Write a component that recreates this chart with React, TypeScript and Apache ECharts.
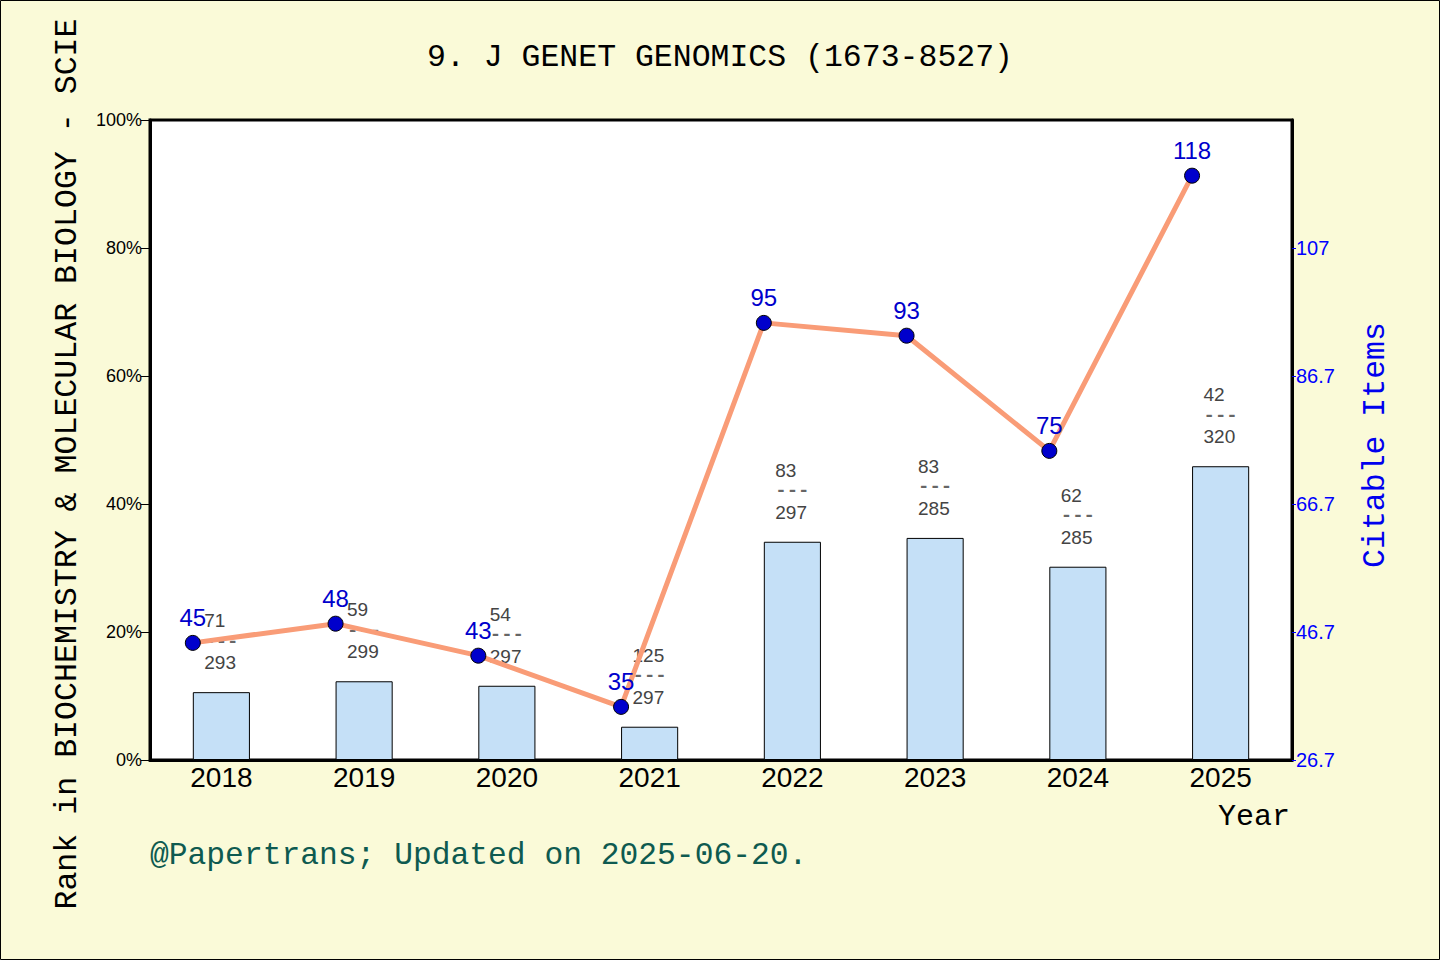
import React, { useEffect, useRef } from "react";
import * as echarts from "echarts";

const years = ["2018", "2019", "2020", "2021", "2022", "2023", "2024", "2025"];
const barPercent = [10.6, 12.3, 11.6, 5.2, 34.1, 34.7, 30.2, 45.9];
const citable = [45, 48, 43, 35, 95, 93, 75, 118];
const rank = [71, 59, 54, 125, 83, 83, 62, 42];
const total = [293, 299, 297, 297, 297, 285, 285, 320];
const leftTicks = [0, 20, 40, 60, 80, 100];
const rightMin = 26.7;
const rightMax = 126.7;

const titleText = "9. J GENET GENOMICS (1673-8527)";
const yName = "Rank in BIOCHEMISTRY & MOLECULAR BIOLOGY - SCIE";
const y2Name = "Citable Items";
const footer = "@Papertrans; Updated on 2025-06-20.";

export default function App() {
  const ref = useRef<HTMLDivElement>(null);
  useEffect(() => {
    if (!ref.current) return;
    const chart = echarts.init(ref.current, null, { renderer: "svg" });
    const mono = "Liberation Mono";
    const sans = "Liberation Sans";
    const gridLeft = 150;
    const gridRight = 148;
    const plotW = 1440 - gridLeft - gridRight;
    const halfBar = (plotW / years.length) * 0.2;
    chart.setOption({
      animation: false,
      backgroundColor: "#FAFAD8",
      grid: [
        {
          left: gridLeft,
          top: 120,
          right: gridRight,
          bottom: 200,
          show: true,
          backgroundColor: "#ffffff",
          borderColor: "#000",
          borderWidth: 3,
        },
        {
          left: gridLeft - halfBar,
          top: 120,
          right: gridRight + halfBar,
          bottom: 200,
          show: false,
        },
      ],
      xAxis: [
        {
          type: "category",
          data: years,
          gridIndex: 0,
          boundaryGap: true,
          axisLine: { lineStyle: { color: "#000", width: 3 } },
          axisTick: { inside: true, length: 5, lineStyle: { color: "#000", width: 1 } },
          axisLabel: { color: "#000", fontSize: 28, fontFamily: sans, margin: 3 },
        },
        {
          type: "category",
          data: years,
          gridIndex: 1,
          boundaryGap: true,
          show: false,
        },
      ],
      yAxis: [
        {
          type: "value",
          gridIndex: 0,
          min: leftTicks[0],
          max: leftTicks[leftTicks.length - 1],
          interval: 20,
          splitLine: { show: false },
          axisLine: { show: true, lineStyle: { color: "#000", width: 3 } },
          axisTick: { show: true, length: 9, lineStyle: { color: "#000", width: 1 } },
          axisLabel: { color: "#000", fontSize: 18, fontFamily: sans, formatter: "{value}%", margin: 8 },
        },
        {
          type: "value",
          gridIndex: 0,
          min: rightMin,
          max: rightMax,
          interval: 20,
          position: "right",
          splitLine: { show: false },
          axisLine: { show: true, lineStyle: { color: "#000", width: 3 } },
          axisTick: { show: true, length: 4, lineStyle: { color: "#0000FF", width: 1 } },
          axisLabel: {
            color: "#0000FF",
            fontSize: 20,
            fontFamily: sans,
            margin: 4,
            showMaxLabel: false,
            formatter: (v: number) => (v >= 100 ? String(Math.round(v)) : v.toFixed(1)),
          },
        },
        {
          type: "value",
          gridIndex: 1,
          min: rightMin,
          max: rightMax,
          show: false,
          splitLine: { show: false },
        },
      ],
      series: [
        {
          type: "bar",
          data: barPercent,
          xAxisIndex: 0,
          yAxisIndex: 0,
          barWidth: "40%",
          z: 2,
          itemStyle: { color: "#C5E0F7", borderColor: "#000", borderWidth: 1 },
          label: {
            show: true,
            position: "top",
            distance: 19,
            formatter: (p: any) =>
              `{a|${rank[p.dataIndex]}}\n{d|---}\n{a|${total[p.dataIndex]}}`,
            rich: {
              a: { fontSize: 19, color: "#444", fontFamily: sans, align: "left", lineHeight: 21 },
              d: { fontSize: 19, color: "#666", fontFamily: mono, fontWeight: "bold", align: "left", lineHeight: 21 },
            },
          },
        },
        {
          type: "line",
          data: citable,
          xAxisIndex: 1,
          yAxisIndex: 2,
          z: 5,
          symbol: "circle",
          symbolSize: 15,
          lineStyle: { color: "#F99C77", width: 5 },
          itemStyle: { color: "#0000CC", borderColor: "#000", borderWidth: 1 },
          label: {
            show: true,
            position: "top",
            distance: 5,
            color: "#0000CC",
            fontSize: 24,
            fontFamily: sans,
          },
        },
      ],
      graphic: [
        {
          type: "text",
          x: 720,
          y: 57,
          style: { text: titleText, font: `31.5px "${mono}"`, fill: "#000", align: "center", verticalAlign: "middle" },
        },
        {
          type: "text",
          x: 67,
          y: 464,
          rotation: Math.PI / 2,
          style: { text: yName, font: `31.6px "${mono}"`, fill: "#000", align: "center", verticalAlign: "middle" },
        },
        {
          type: "text",
          x: 1375,
          y: 445,
          rotation: Math.PI / 2,
          style: { text: y2Name, font: `31.5px "${mono}"`, fill: "#0000EE", align: "center", verticalAlign: "middle" },
        },
        {
          type: "text",
          x: 1290,
          y: 817,
          style: { text: "Year", font: `30px "${mono}"`, fill: "#000", align: "right", verticalAlign: "middle" },
        },
        {
          type: "text",
          x: 150,
          y: 855,
          style: { text: footer, font: `31.3px "${mono}"`, fill: "#0E5A50", align: "left", verticalAlign: "middle" },
        },
        {
          type: "rect",
          shape: { x: 0.5, y: 0.5, width: 1439, height: 959 },
          style: { fill: "none", stroke: "#000", lineWidth: 1 },
          silent: true,
        },
      ],
    });
    return () => chart.dispose();
  }, []);
  return (
    <div
      ref={ref}
      style={{ position: "absolute", left: 0, top: 0, width: 1440, height: 960 }}
    />
  );
}
